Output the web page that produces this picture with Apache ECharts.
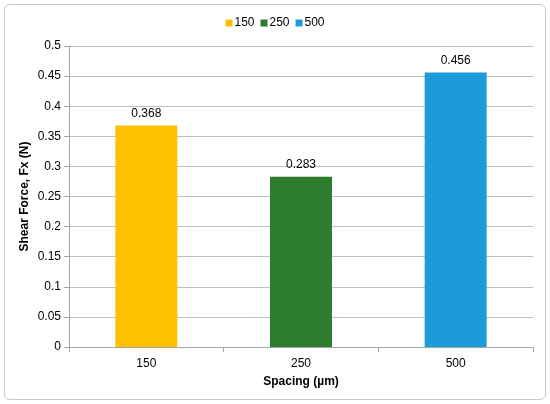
<!DOCTYPE html>
<html>
<head>
<meta charset="utf-8">
<script src="https://cdn.jsdelivr.net/npm/echarts@6/dist/echarts.min.js"></script>
<style>
html, body { margin: 0; padding: 0; background: #fff; }
#frame { position: absolute; left: 4px; top: 4px; width: 540px; height: 394px; border: 1.5px solid #c8c8c8; border-radius: 6px; }
#chart { width: 550px; height: 404px; }
</style>
</head>
<body>
<div id="frame"></div>
<div id="chart"></div>
<script>
var spacings = ['150', '250', '500'];
var shearForce = [0.368, 0.283, 0.456];
var barColors = ['#FFC000', '#2E7D2E', '#1B9CD9'];
var yTicks = [0, 0.05, 0.1, 0.15, 0.2, 0.25, 0.3, 0.35, 0.4, 0.45, 0.5];

var myChart = echarts.init(document.getElementById('chart'));

// one series per spacing so each gets a legend entry
var series = spacings.map(function (name, i) {
    var d = spacings.map(function (s, j) { return j === i ? shearForce[i] : '-'; });
    return {
        name: name,
        type: 'bar',
        data: d,
        barWidth: 62,
        barGap: '-100%',
        itemStyle: {color: barColors[i]},
        label: {
            show: true,
            position: 'top',
            distance: 6,
            color: '#000',
            fontFamily: 'Liberation Sans',
            fontSize: 12
        }
    };
});

var option = {
    animation: false,
    textStyle: {fontFamily: 'Liberation Sans'},
    legend: {
        data: spacings,
        top: 12,
        left: 'center',
        itemWidth: 7,
        itemHeight: 7,
        itemGap: 6,
        icon: 'rect',
        textStyle: {fontSize: 12, color: '#000', padding: [0, 0, 0, -3]}
    },
    grid: {left: 69, right: 17, top: 46, bottom: 57},
    xAxis: {
        type: 'category',
        data: spacings,
        name: 'Spacing (µm)',
        nameLocation: 'middle',
        nameGap: 29,
        nameMoveOverlap: false,
        nameTextStyle: {fontWeight: 'bold', fontSize: 12, color: '#000'},
        axisLine: {lineStyle: {color: '#a6a6a6'}},
        axisTick: {show: true, alignWithLabel: false, length: 5, lineStyle: {color: '#a6a6a6'}},
        axisLabel: {color: '#000', fontSize: 12, margin: 11}
    },
    yAxis: {
        type: 'value',
        min: 0,
        max: 0.5,
        interval: 0.05,
        name: 'Shear Force, Fx (N)',
        nameLocation: 'middle',
        nameGap: 38,
        nameMoveOverlap: false,
        nameTextStyle: {fontWeight: 'bold', fontSize: 12, color: '#000'},
        axisLine: {show: true, lineStyle: {color: '#a6a6a6'}},
        axisTick: {show: true, length: 5, lineStyle: {color: '#a6a6a6'}},
        axisLabel: {
            color: '#000',
            fontSize: 12,
            margin: 8,
            formatter: function (v) {
                var t = yTicks.filter(function (y) { return Math.abs(y - v) < 1e-9; });
                return t.length ? String(t[0]) : '';
            }
        },
        splitLine: {lineStyle: {color: '#bfbfbf'}}
    },
    series: series
};

myChart.setOption(option);
</script>
</body>
</html>
